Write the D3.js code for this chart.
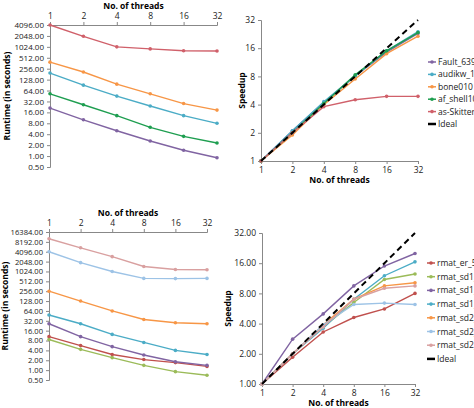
<!DOCTYPE html><html><head><meta charset="utf-8"><script src="https://d3js.org/d3.v7.min.js"></script>
<style>body{margin:0;background:#fff}text{font-family:"Open Sans",Calibri,sans-serif}</style></head><body>
<svg id="c" width="474" height="408"></svg>
<script>
const threads=[1,2,4,8,16,32];
const topNames=["Fault_639","audikw_1","bone010","af_shell10","as-Skitter"];
const topColors=["#8064A2","#4BACC6","#F79646","#1E9E50","#D0606A"];
const topRuntime=[[21,10,5,2.6,1.45,0.9],[194,90,45,24,13,8],[388,207,96,52,28,18.5],[52,26,13,6.2,3.5,2.3],[4096,2000,1024,900,800,790]];
const topSpeedup=[[1,2.1,4.2,8.1,14.5,23],[1,2.1,4.3,8.1,15,24],[1,1.9,4,7.5,14,21.5],[1,2,4.1,8.3,15,23.5],[1,2,3.8,4.5,4.9,4.9]];
const botNames=["rmat_er_5","rmat_sd1_3","rmat_sd1_4","rmat_sd1_5","rmat_sd2_1","rmat_sd2_2","rmat_sd2_3"];
const botColors=["#C0504D","#9BBB59","#8064A2","#4BACC6","#F79646","#9DC3E6","#D9A0A0"];
const botRuntime=[[10.5,5.6,3,2.1,1.7,1.3],[8.6,4.3,2.4,1.4,0.9,0.7],[26,10.5,5.2,2.9,1.8,1.4],[48,26,12.3,7,4,3],[256,128,64,35,28,26],[4096,1900,1024,630,620,630],[10200,5400,2900,1450,1180,1150]];
const botSpeedup=[[1,1.85,3.3,4.6,5.6,8],[1,2,3.7,6.5,11,12.5],[1,2.8,5,9.5,15,20],[1,2,3.6,7,12,16.5],[1,2,3.9,7,9.5,10.2],[1,2,3.9,6.2,6.4,6.2],[1,2,3.7,7,9,9.5]];
const topRtTicks=[0.5,1,2,4,8,16,32,64,128,256,512,1024,2048,4096];
const botRtTicks=[0.5,1,2,4,8,16,32,64,128,256,512,1024,2048,4096,8192,16384];
const topSpTicks=[1,2,4,8,16,32];
const botSpTicks=[1,2,4,8,16,32];
const svg=d3.select("#c");

function panel(o){
  const x=d3.scaleLog().base(2).domain([1,32]).range([o.x0,o.x1]);
  const y=d3.scaleLog().base(2).domain([o.ticks[0],o.ticks[o.ticks.length-1]]).range([o.y1,o.y0]);
  const g=svg.append("g");
  const xa=o.top?d3.axisTop(x):d3.axisBottom(x);
  g.append("g").attr("transform",`translate(0,${o.top?o.y0:o.y1})`).call(xa.tickValues(threads).tickFormat(d3.format("d")).tickSize(3))
   .call(a=>{a.select(".domain").attr("stroke","#888");a.selectAll("line").attr("stroke","#888");a.selectAll("text").attr("font-size",8.5).attr("fill","#222");});
  g.append("g").attr("transform",`translate(${o.x0},0)`).call(d3.axisLeft(y).tickValues(o.ticks).tickFormat(o.fmt).tickSize(3))
   .call(a=>{a.select(".domain").attr("stroke","#888");a.selectAll("line").attr("stroke","#888");a.selectAll("text").attr("font-size",o.fs||8.5).attr("fill","#222");});
  g.append("text").attr("x",(o.x0+o.x1)/2).attr("y",o.top?o.y0-16:o.y1+22).attr("text-anchor","middle").attr("font-size",8.5).attr("font-weight","bold").text("No. of threads");
  g.append("text").attr("transform",`translate(${o.ylx},${(o.y0+o.y1)/2}) rotate(-90)`).attr("text-anchor","middle").attr("font-size",8.5).attr("font-weight","bold").text(o.ylabel);
  const line=d3.line().x((d,i)=>x(threads[i])).y(d=>y(d));
  o.data.forEach((s,k)=>{
    const c=o.colors[k];
    g.append("path").attr("d",line(s)).attr("fill","none").attr("stroke",c).attr("stroke-width",1.4);
    g.selectAll(null).data(s).join("circle").attr("cx",(d,i)=>x(threads[i])).attr("cy",d=>y(d)).attr("r",1.8).attr("fill",c);
  });
  if(o.ideal) g.append("path").attr("d",line(threads)).attr("fill","none").attr("stroke","#000").attr("stroke-width",2).attr("stroke-dasharray","6,4");
  if(o.legend){
    const items=o.names.map((n,i)=>({n,c:o.colors[i]})).concat([{n:"Ideal",c:"#000"}]);
    items.forEach((it,i)=>{
      const yy=o.ly+i*o.ld;
      g.append("line").attr("x1",o.lx).attr("x2",o.lx+8).attr("y1",yy).attr("y2",yy).attr("stroke",it.c).attr("stroke-width",it.n=="Ideal"?2.5:1.5);
      if(it.n!="Ideal") g.append("circle").attr("cx",o.lx+4).attr("cy",yy).attr("r",1.8).attr("fill",it.c);
      g.append("text").attr("x",o.lx+10).attr("y",yy+3).attr("font-size",8.5).attr("fill","#222").text(it.n);
    });
  }
}
panel({x0:50,x1:217,y0:25,y1:167,ticks:topRtTicks,fmt:d3.format(".2f"),top:true,ylabel:"Runtime (in seconds)",ylx:10,data:topRuntime,colors:topColors,fs:8});
panel({x0:261,x1:418,y0:20,y1:161,ticks:topSpTicks,fmt:d3.format("d"),top:false,ylabel:"Speedup",ylx:245,data:topSpeedup,colors:topColors,ideal:true,legend:true,names:topNames,lx:428,ly:62,ld:12.4});
panel({x0:49,x1:207,y0:232,y1:380,ticks:botRtTicks,fmt:d3.format(".2f"),top:true,ylabel:"Runtime (in seconds)",ylx:8,data:botRuntime,colors:botColors,fs:7.6});
panel({x0:262,x1:415,y0:233,y1:384,ticks:botSpTicks,fmt:d3.format(".2f"),top:false,ylabel:"Speedup",ylx:231,data:botSpeedup,colors:botColors,ideal:true,legend:true,names:botNames,lx:427,ly:263,ld:13.7});
</script></body></html>
